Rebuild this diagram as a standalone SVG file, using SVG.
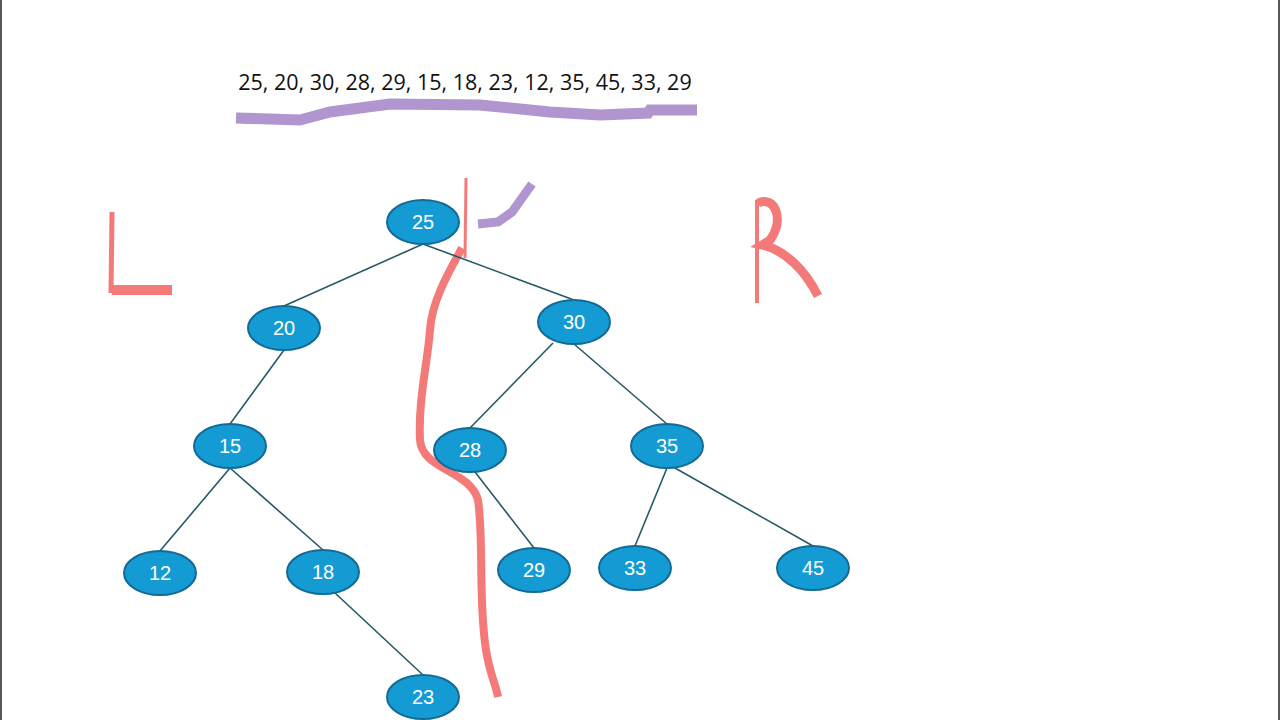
<svg xmlns="http://www.w3.org/2000/svg" width="1280" height="720" viewBox="0 0 1280 720">
<style>
.n{fill:#159bd3;stroke:#136a96;stroke-width:2}
.t{font-family:"Liberation Sans",Arial,sans-serif;font-size:20px;fill:#fff;text-anchor:middle;dominant-baseline:central}
.e{stroke:#235a66;stroke-width:1.6;fill:none}
.red{stroke:#f47a7a;fill:none;stroke-linecap:butt}
.pur{stroke:#b195cf;fill:none}
</style>
<rect width="1280" height="720" fill="#fff"/>
<line x1="1" y1="0" x2="1" y2="720" stroke="#222" stroke-width="1.5"/>
<line x1="1279" y1="0" x2="1279" y2="720" stroke="#222" stroke-width="1.5"/>
<text x="465" y="90" font-family="'Open Sans','Liberation Sans',sans-serif" font-size="21.5" text-anchor="middle" fill="#111">25, 20, 30, 28, 29, 15, 18, 23, 12, 35, 45, 33, 29</text>
<path class="pur" stroke-width="11" d="M236,118 L300,120 L330,112 L390,104 L480,105 L550,112 L600,115 L648,113 L650,110 L697,110"/>
<path class="pur" stroke-width="9" d="M478,224 L498,222 L512,212 L532,184"/>
<path class="red" stroke-width="5" d="M112,212 L111,293"/>
<path class="red" stroke-width="10" d="M112,290 L172,290"/>
<path class="red" stroke-width="4" d="M757,200 L757,303"/>
<path class="red" stroke-width="9" d="M758,203 C775,195 785,220 770,240 L762,245 C785,250 805,270 818,296"/>
<path class="red" stroke-width="3" d="M466,178 L465,258"/>
<path class="red" stroke-width="8" d="M462,248 C450,270 432,300 430,330 C428,360 418,400 420,440 C422,470 470,470 478,500 C484,540 478,600 486,650 C490,675 496,685 498,697"/>
<g id="connectors">
<line class="e" x1="423" y1="244" x2="284" y2="306"/>
<line class="e" x1="423" y1="244" x2="574" y2="300"/>
<line class="e" x1="284" y1="350" x2="230" y2="424"/>
<line class="e" x1="230" y1="468" x2="160" y2="551"/>
<line class="e" x1="230" y1="468" x2="323" y2="550"/>
<line class="e" x1="335" y1="593" x2="423" y2="675"/>
<line class="e" x1="553" y1="343" x2="470" y2="428"/>
<line class="e" x1="574" y1="344" x2="667" y2="424"/>
<line class="e" x1="475" y1="472" x2="534" y2="548"/>
<line class="e" x1="667" y1="468" x2="635" y2="546"/>
<line class="e" x1="675" y1="468" x2="813" y2="546"/>
</g>
<g id="n25"><ellipse class="n" cx="423" cy="222" rx="36" ry="22"/><text class="t" x="423" y="222">25</text></g>
<g id="n20"><ellipse class="n" cx="284" cy="328" rx="36" ry="22"/><text class="t" x="284" y="328">20</text></g>
<g id="n30"><ellipse class="n" cx="574" cy="322" rx="36" ry="22"/><text class="t" x="574" y="322">30</text></g>
<g id="n15"><ellipse class="n" cx="230" cy="446" rx="36" ry="22"/><text class="t" x="230" y="446">15</text></g>
<g id="n28"><ellipse class="n" cx="470" cy="450" rx="36" ry="22"/><text class="t" x="470" y="450">28</text></g>
<g id="n35"><ellipse class="n" cx="667" cy="446" rx="36" ry="22"/><text class="t" x="667" y="446">35</text></g>
<g id="n12"><ellipse class="n" cx="160" cy="573" rx="36" ry="22"/><text class="t" x="160" y="573">12</text></g>
<g id="n18"><ellipse class="n" cx="323" cy="572" rx="36" ry="22"/><text class="t" x="323" y="572">18</text></g>
<g id="n29"><ellipse class="n" cx="534" cy="570" rx="36" ry="22"/><text class="t" x="534" y="570">29</text></g>
<g id="n33"><ellipse class="n" cx="635" cy="568" rx="36" ry="22"/><text class="t" x="635" y="568">33</text></g>
<g id="n45"><ellipse class="n" cx="813" cy="568" rx="36" ry="22"/><text class="t" x="813" y="568">45</text></g>
<g id="n23"><ellipse class="n" cx="423" cy="697" rx="36" ry="22"/><text class="t" x="423" y="697">23</text></g>
</svg>
